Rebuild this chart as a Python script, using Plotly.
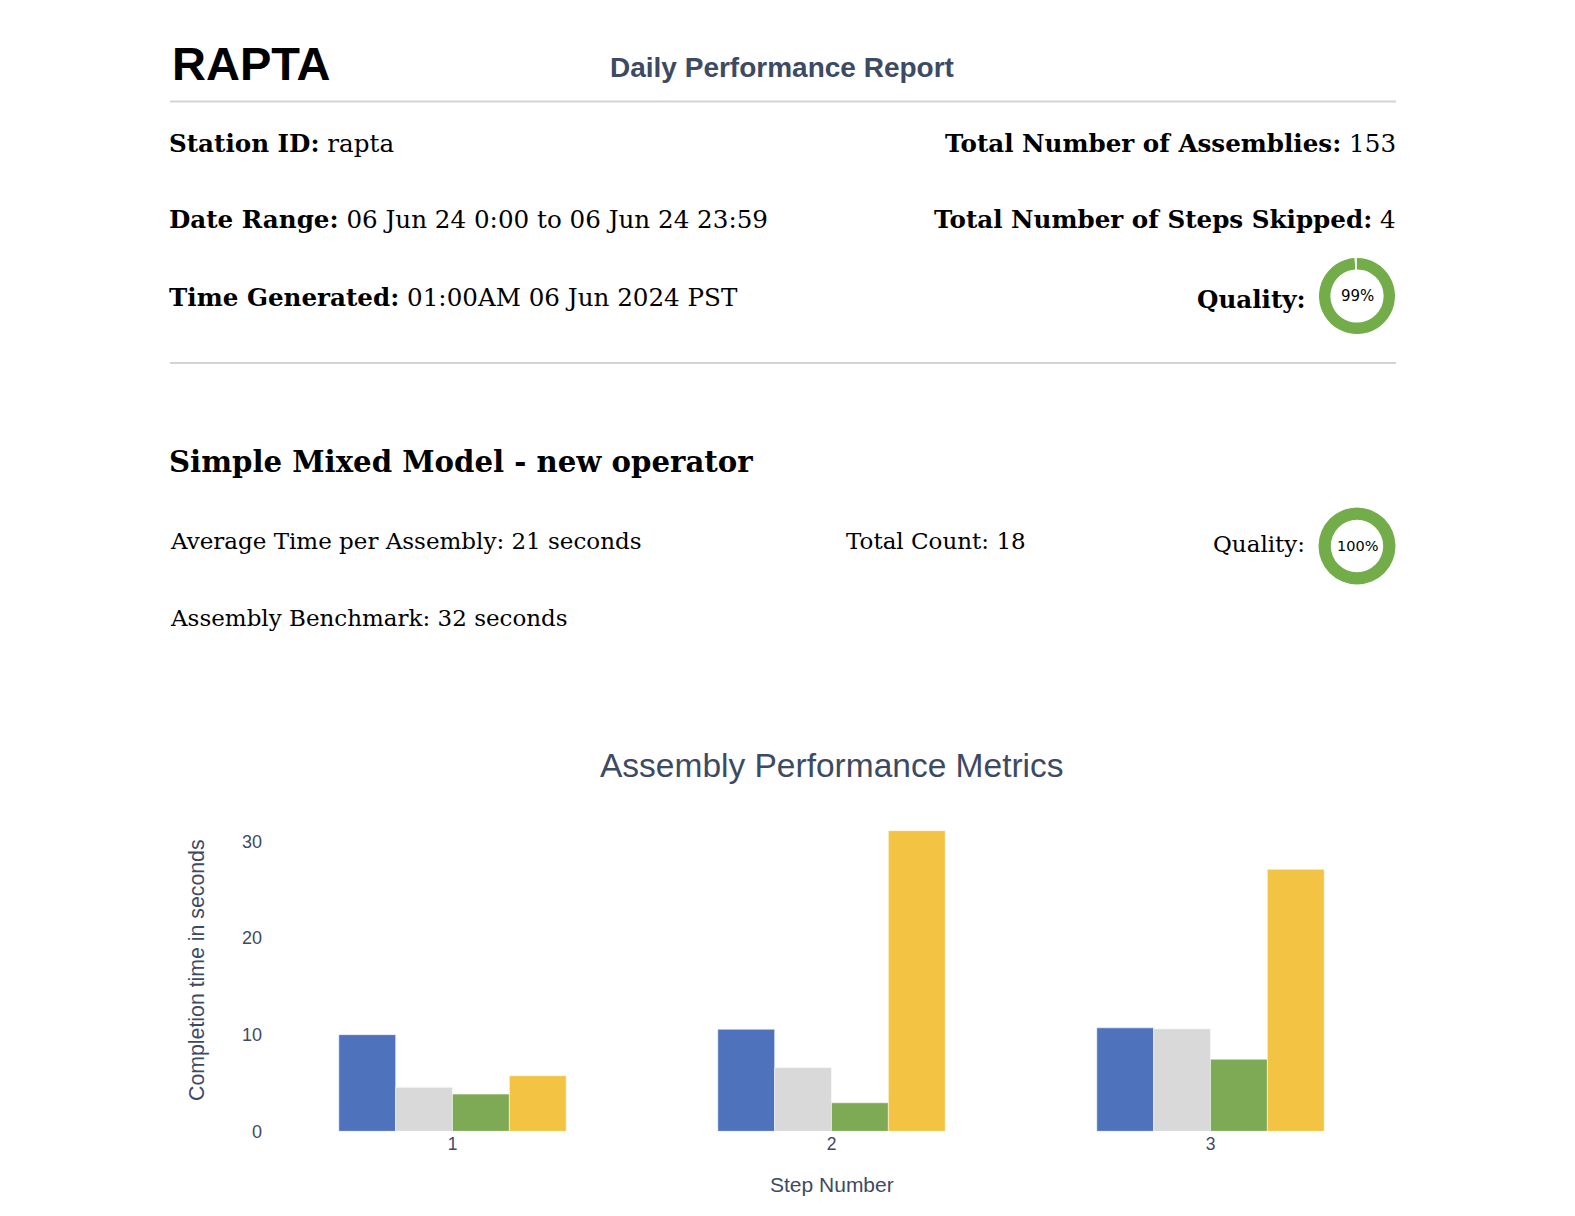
import plotly.graph_objects as go

W, H = 1575, 1216

# ---------------- data ----------------
steps = [1, 2, 3]
series_names = ["Average Time", "Best Time", "Fastest Time", "Benchmark Time"]
series_values = [
    [10.0, 10.55, 10.7],
    [4.55, 6.6, 10.6],
    [3.85, 2.95, 7.45],
    [5.75, 31.1, 27.1],
]
series_colors = ["#4f72bd", "#d9d9d9", "#7faa55", "#f3c343"]

station_id = "rapta"
date_range = "06 Jun 24 0:00 to 06 Jun 24 23:59"
time_generated = "01:00AM 06 Jun 2024 PST"
total_assemblies = 153
total_skipped = 4
overall_quality = 99

model_name = "Simple Mixed Model - new operator"
avg_time = 21
total_count = 18
model_quality = 100
benchmark = 32


def fx(x):
    return x / W


def fy(y):
    return 1 - y / H


SERIF = "DejaVu Serif"
SANS = "Liberation Sans"
TXT = "#3d4a63"
GREEN = "#72ad4a"

fig = go.Figure()

# bars
for name, vals, col in zip(series_names, series_values, series_colors):
    fig.add_trace(go.Bar(
        x=steps, y=vals, name=name, marker_color=col,
        marker_line_color="white", marker_line_width=0.5,
        showlegend=False,
    ))

# donuts
def donut(pct, cx, cy, r, hole, label, fsize):
    fig.add_trace(go.Pie(
        values=[pct, 100 - pct], sort=False, direction="counterclockwise",
        marker=dict(colors=[GREEN, "#eef3ea"], line=dict(width=0)),
        hole=hole, textinfo="none", hoverinfo="skip", showlegend=False,
        domain=dict(x=[fx(cx - r), fx(cx + r)], y=[fy(cy + r), fy(cy - r)]),
    ))
    fig.add_annotation(x=fx(cx), y=fy(cy), xref="paper", yref="paper",
                       text=label, showarrow=False,
                       xanchor="center", yanchor="middle",
                       font=dict(family="DejaVu Sans", size=fsize, color="black"))


donut(overall_quality, 1357, 296, 38, 0.70, f"{overall_quality}%", 15)
donut(model_quality, 1357, 546, 38.5, 0.68, f"{model_quality}%", 14.5)

ann = []


def text(x, y, t, size, family=SERIF, color="black", xanchor="left", **kw):
    ann.append(dict(x=fx(x), y=fy(y), xref="paper", yref="paper", text=t,
                    showarrow=False, xanchor=xanchor, yanchor="middle",
                    font=dict(family=family, size=size, color=color), **kw))


# header
text(170, 63, "<b>RAPTA</b>", 47, family=SANS, color="black")
text(782, 67, "<b>Daily Performance Report</b>", 28, family=SANS, color=TXT, xanchor="center")

# info rows
text(167, 143, f"<b>Station ID:</b> {station_id}", 24.6)
text(167, 219, f"<b>Date Range:</b> {date_range}", 24.6)
text(167, 297, f"<b>Time Generated:</b> {time_generated}", 24.6)
text(1398, 143, f"<b>Total Number of Assemblies:</b> {total_assemblies}", 24.6, xanchor="right")
text(1398, 219, f"<b>Total Number of Steps Skipped:</b> {total_skipped}", 24.6, xanchor="right")
text(1308, 299, "<b>Quality:</b>", 24.6, xanchor="right")

# model section
text(167, 462, f"<b>{model_name}</b>", 29.2)
text(168, 541, f"Average Time per Assembly: {avg_time} seconds", 23)
text(844, 541, f"Total Count: {total_count}", 23)
text(1307, 544, "Quality:", 23, xanchor="right")
text(168, 618, f"Assembly Benchmark: {benchmark} seconds", 23)

# chart titles
text(831.5, 765, "Assembly Performance Metrics", 33.5, family=SANS, color=TXT, xanchor="center")
text(831.5, 1184, "Step Number", 21, family=SANS, color=TXT, xanchor="center")
text(197, 970, "Completion time in seconds", 21.3, family=SANS, color=TXT,
     xanchor="center", textangle=-90)

for a in ann:
    fig.add_annotation(**a)

# separators
for yy in (101.5, 363):
    fig.add_shape(type="line", xref="paper", yref="paper",
                  x0=fx(170), x1=fx(1396), y0=fy(yy), y1=fy(yy),
                  line=dict(color="#d4d4d4", width=2))

fig.update_layout(
    width=W, height=H, autosize=False,
    margin=dict(l=0, r=0, t=0, b=0, autoexpand=False),
    paper_bgcolor="white", plot_bgcolor="white",
    barmode="group", bargap=0.4, bargroupgap=0,
    xaxis=dict(domain=[fx(263), fx(1400)], range=[0.5, 3.5], automargin=False,
               tickmode="array", tickvals=steps, ticktext=[str(s) for s in steps],
               showgrid=False, zeroline=False, showline=False, ticks="",
               tickfont=dict(family=SANS, size=17.5, color=TXT)),
    yaxis=dict(domain=[fy(1131.3), fy(1131.3 - 32.7 * 9.667)], range=[0, 32.7],
               automargin=False, tickvals=[0, 10, 20, 30],
               showgrid=False, zeroline=False, showline=False, ticks="",
               tickfont=dict(family=SANS, size=18, color=TXT)),
)

fig.write_html("out.html")
